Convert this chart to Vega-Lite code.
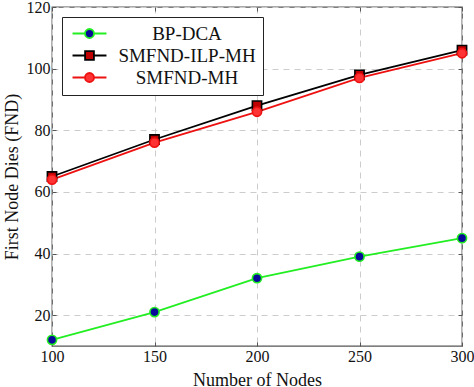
{
  "$schema": "https://vega.github.io/schema/vega-lite/v6.json",
  "width": 410,
  "height": 339,
  "autosize": {"type": "none"},
  "padding": {"left": 52, "top": 7, "right": 12, "bottom": 41},
  "config": {
    "font": "Liberation Serif",
    "view": {"stroke": "#555555", "strokeWidth": 1.3},
    "axis": {"labelFont": "Liberation Serif", "titleFont": "Liberation Serif", "labelFontSize": 16, "titleFontSize": 18, "labelColor": "#111", "titleColor": "#111", "titleFontWeight": "normal", "domain": false, "tickColor": "#555555", "tickSize": -4, "gridColor": "#cccccc", "gridDash": [6, 5], "gridWidth": 1, "labelFlush": false, "labelOverlap": false}
  },
  "data": {"values": [
    {"nodes": 100, "fnd": 12, "series": "BP-DCA"},
    {"nodes": 150, "fnd": 21, "series": "BP-DCA"},
    {"nodes": 200, "fnd": 32, "series": "BP-DCA"},
    {"nodes": 250, "fnd": 39, "series": "BP-DCA"},
    {"nodes": 300, "fnd": 45, "series": "BP-DCA"},
    {"nodes": 100, "fnd": 65, "series": "SMFND-ILP-MH"},
    {"nodes": 150, "fnd": 77, "series": "SMFND-ILP-MH"},
    {"nodes": 200, "fnd": 88, "series": "SMFND-ILP-MH"},
    {"nodes": 250, "fnd": 98, "series": "SMFND-ILP-MH"},
    {"nodes": 300, "fnd": 106, "series": "SMFND-ILP-MH"},
    {"nodes": 100, "fnd": 64, "series": "SMFND-MH"},
    {"nodes": 150, "fnd": 76, "series": "SMFND-MH"},
    {"nodes": 200, "fnd": 86, "series": "SMFND-MH"},
    {"nodes": 250, "fnd": 97, "series": "SMFND-MH"},
    {"nodes": 300, "fnd": 105, "series": "SMFND-MH"}
  ]},
  "encoding": {
    "x": {"field": "nodes", "type": "quantitative", "scale": {"domain": [100, 300], "nice": false, "zero": false}},
    "y": {"field": "fnd", "type": "quantitative", "scale": {"domain": [10, 120], "nice": false, "zero": false}}
  },
  "layer": [
    {
      "mark": {"type": "line", "strokeWidth": 1.8},
      "encoding": {
        "x": {"field": "nodes", "type": "quantitative", "axis": {"title": "Number of Nodes", "values": [100, 150, 200, 250, 300], "labelPadding": 6, "titlePadding": 7, "grid": true}},
        "y": {"field": "fnd", "type": "quantitative", "axis": {"title": "First Node Dies (FND)", "values": [20, 40, 60, 80, 100, 120], "labelPadding": 6, "titlePadding": 5, "grid": true}},
        "color": {"field": "series", "type": "nominal", "legend": null, "scale": {"domain": ["BP-DCA", "SMFND-ILP-MH", "SMFND-MH"], "range": ["#22ee22", "#000000", "#ee1111"]}}
      }
    },
    {
      "mark": {"type": "point", "filled": true, "size": 85, "strokeWidth": 1.6, "opacity": 1},
      "encoding": {
        "x": {"field": "nodes", "type": "quantitative", "axis": null},
        "y": {"field": "fnd", "type": "quantitative", "axis": null},
        "shape": {"field": "series", "type": "nominal", "legend": null, "scale": {"domain": ["BP-DCA", "SMFND-ILP-MH", "SMFND-MH"], "range": ["circle", "square", "circle"]}},
        "fill": {"field": "series", "type": "nominal", "legend": null, "scale": {"domain": ["BP-DCA", "SMFND-ILP-MH", "SMFND-MH"], "range": ["#0a0a9a", "#c00000", "#ff3333"]}},
        "stroke": {"field": "series", "type": "nominal", "legend": null, "scale": {"domain": ["BP-DCA", "SMFND-ILP-MH", "SMFND-MH"], "range": ["#22ee22", "#000000", "#ee1111"]}}
      }
    },
    {
      "mark": {"type": "point", "filled": true, "size": 128, "strokeWidth": 1.8, "opacity": 0},
      "encoding": {
        "x": {"field": "nodes", "type": "quantitative", "axis": {"orient": "top", "title": null, "labels": false, "values": [100, 150, 200, 250, 300], "grid": false}},
        "y": {"field": "fnd", "type": "quantitative", "axis": {"orient": "right", "title": null, "labels": false, "values": [20, 40, 60, 80, 100, 120], "grid": false}},
        "shape": {"field": "series", "type": "nominal", "scale": {"domain": ["BP-DCA", "SMFND-ILP-MH", "SMFND-MH"], "range": [
          "M-3,0H-0.8M0.8,0H3M0.8,0A0.8,0.8,0,1,1,-0.8,0A0.8,0.8,0,1,1,0.8,0Z",
          "M-3,0H-0.78M0.78,0H3M-0.78,-0.78H0.78V0.78H-0.78Z",
          "M-3,0H-0.8M0.8,0H3M0.8,0A0.8,0.8,0,1,1,-0.8,0A0.8,0.8,0,1,1,0.8,0Z"
        ]},
          "legend": {"title": null, "orient": "top-left", "offset": 10, "strokeColor": "#222", "fillColor": "white", "padding": 7, "labelFont": "Liberation Serif", "labelFontSize": 19, "labelColor": "#111", "labelAlign": "center", "labelOffset": 88, "labelLimit": 300, "symbolSize": 128, "symbolOffset": 11, "symbolStrokeWidth": 1.8, "symbolOpacity": 1, "rowPadding": 2,
            "encode": {"symbols": {"update": {"opacity": {"value": 1}, "size": {"value": 128}}}}}
        },
        "fill": {"field": "series", "type": "nominal", "scale": {"domain": ["BP-DCA", "SMFND-ILP-MH", "SMFND-MH"], "range": ["#0a0a9a", "#c00000", "#ff3333"]}},
        "stroke": {"field": "series", "type": "nominal", "scale": {"domain": ["BP-DCA", "SMFND-ILP-MH", "SMFND-MH"], "range": ["#22ee22", "#000000", "#ee1111"]}}
      }
    }
  ],
  "resolve": {
    "scale": {"shape": "independent", "fill": "independent", "stroke": "independent"},
    "axis": {"x": "independent", "y": "independent"}
  }
}
